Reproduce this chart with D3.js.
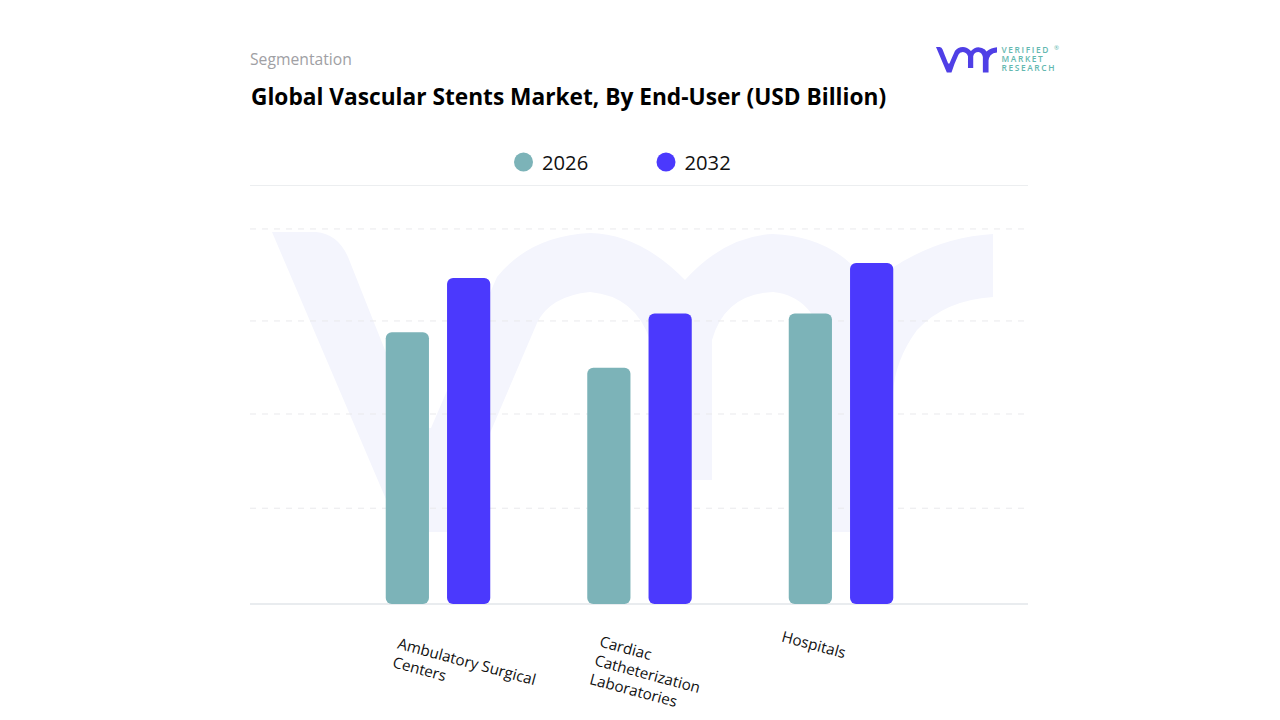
<!DOCTYPE html>
<html><head><meta charset="utf-8">
<script src="https://cdn.jsdelivr.net/npm/d3@7"></script>
<style>
html,body{margin:0;padding:0;background:#fff;width:1280px;height:720px;overflow:hidden}
svg{display:block}
text{font-family:"Open Sans","Noto Sans",sans-serif}
</style></head><body>
<svg id="chart" width="1280" height="720"></svg>
<script>
const pageLabel = "Segmentation";
const chartTitle = "Global Vascular Stents Market, By End-User (USD Billion)";
const categories = ["Ambulatory Surgical Centers", "Cardiac Catheterization Laboratories", "Hospitals"];
const categoryLines = [["Ambulatory Surgical", "Centers"], ["Cardiac", "Catheterization", "Laboratories"], ["Hospitals"]];
const seriesNames = ["2026", "2032"];
const values2026 = [2.91, 2.53, 3.11];
const values2032 = [3.49, 3.11, 3.65];
const gridValues = [1.025, 2.034, 3.03, 4.015];
const logoLines = ["VERIFIED", "MARKET", "RESEARCH"];
const colors = {"2026": "#7cb3b8", "2032": "#4b39fd"};

const svg = d3.select("#chart");

// brand mark: used large as the watermark and small as the logo
const vmrPath = "M272 232 L316 232 Q340 234 350 262 L373 320 L416 428 L431 428 L455 372 L497 277 Q530 236 590 233 Q640 234 685 280 Q725 236 773 234 Q820 236 850 263 L868 286 Q925 238 993 234 L993 297 Q945 300 917 330 Q895 360 893 393 L893 532 L826 532 L826 350 Q815 296 773 292 Q725 294 712 340 L712 480 L650 480 L650 340 Q635 296 590 292 Q550 296 537 323 L490 433 L455 532 L400 532 Z";

svg.append("path").attr("fill", "#f4f5fd").attr("d", vmrPath);

// scales
const y = d3.scaleLinear().domain([0, 4.48]).range([604, 185.5]);
const x0 = d3.scaleBand().domain(categories).range([337.25, 941.75]);
const x1 = d3.scaleBand().domain(seriesNames).range([48.5, 153]).paddingInner(0.295);

// gridlines
svg.append("g").selectAll("line").data(gridValues).join("line")
  .attr("x1", 250).attr("x2", 1028)
  .attr("y1", d => y(d)).attr("y2", d => y(d))
  .attr("stroke", "#e9e9ec").attr("stroke-width", 1).attr("stroke-dasharray", "6 6");
svg.append("line").attr("x1", 250).attr("x2", 1028)
  .attr("y1", y(4.48)).attr("y2", y(4.48)).attr("stroke", "#eceef0").attr("stroke-width", 1);
svg.append("line").attr("x1", 250).attr("x2", 1028)
  .attr("y1", y(0)).attr("y2", y(0)).attr("stroke", "#e9ecef").attr("stroke-width", 2);

// bars
const barData = seriesNames.flatMap((s, si) => categories.map((c, i) => ({
  c, s, v: (si === 0 ? values2026 : values2032)[i]
})));
svg.append("g").selectAll("rect").data(barData).join("rect")
  .attr("x", d => x0(d.c) + x1(d.s))
  .attr("width", x1.bandwidth())
  .attr("y", d => y(d.v))
  .attr("height", d => y(0) - y(d.v))
  .attr("rx", 6).attr("ry", 6)
  .attr("fill", d => colors[d.s]);

// category labels, rotated
const labelAnchor = [[400, 636], [602, 634], [784, 629]];
categoryLines.forEach((lines, i) => {
  const g = svg.append("g")
    .attr("transform", `translate(${labelAnchor[i][0]},${labelAnchor[i][1]}) rotate(15)`);
  g.selectAll("text").data(lines).join("text")
    .attr("x", 0).attr("y", (d, j) => j * 19.4)
    .attr("dominant-baseline", "hanging")
    .attr("font-size", 15.2).attr("fill", "#111")
    .text(d => d);
});

// legend
const legendX = {"2026": 523.5, "2032": 666};
const legend = svg.append("g").selectAll("g").data(seriesNames).join("g");
legend.append("circle").attr("cx", d => legendX[d]).attr("cy", 162).attr("r", 9.5)
  .attr("fill", d => colors[d]);
legend.append("text").attr("x", d => legendX[d] + 18.5).attr("y", 170)
  .attr("font-size", 20.2).attr("fill", "#111").text(d => d);

// headings
svg.append("text").attr("x", 250).attr("y", 65).attr("font-size", 15.7)
  .attr("fill", "#a0a0a4").attr("font-family", "Inter, sans-serif").text(pageLabel);
svg.append("text").attr("x", 251).attr("y", 105).attr("font-size", 22.7)
  .attr("font-weight", 700).attr("fill", "#000").text(chartTitle);

// logo
const logoScale = 0.0846;
svg.append("path")
  .attr("transform", `translate(${936 - 272 * logoScale},${47 - 232 * logoScale}) scale(${logoScale})`)
  .attr("fill", "#4f3fe6").attr("d", vmrPath);
svg.append("g").selectAll("text").data(logoLines).join("text")
  .attr("x", 1001.5).attr("y", (d, i) => 53 + i * 9.2)
  .attr("font-size", 8.4).attr("font-weight", 600).attr("letter-spacing", 1.6)
  .attr("font-family", "Lato, sans-serif")
  .attr("fill", "#63b8b0").text(d => d);
svg.append("text").attr("x", 1054).attr("y", 50).attr("font-size", 6).attr("fill", "#63b8b0").text("®");
</script>
</body></html>
